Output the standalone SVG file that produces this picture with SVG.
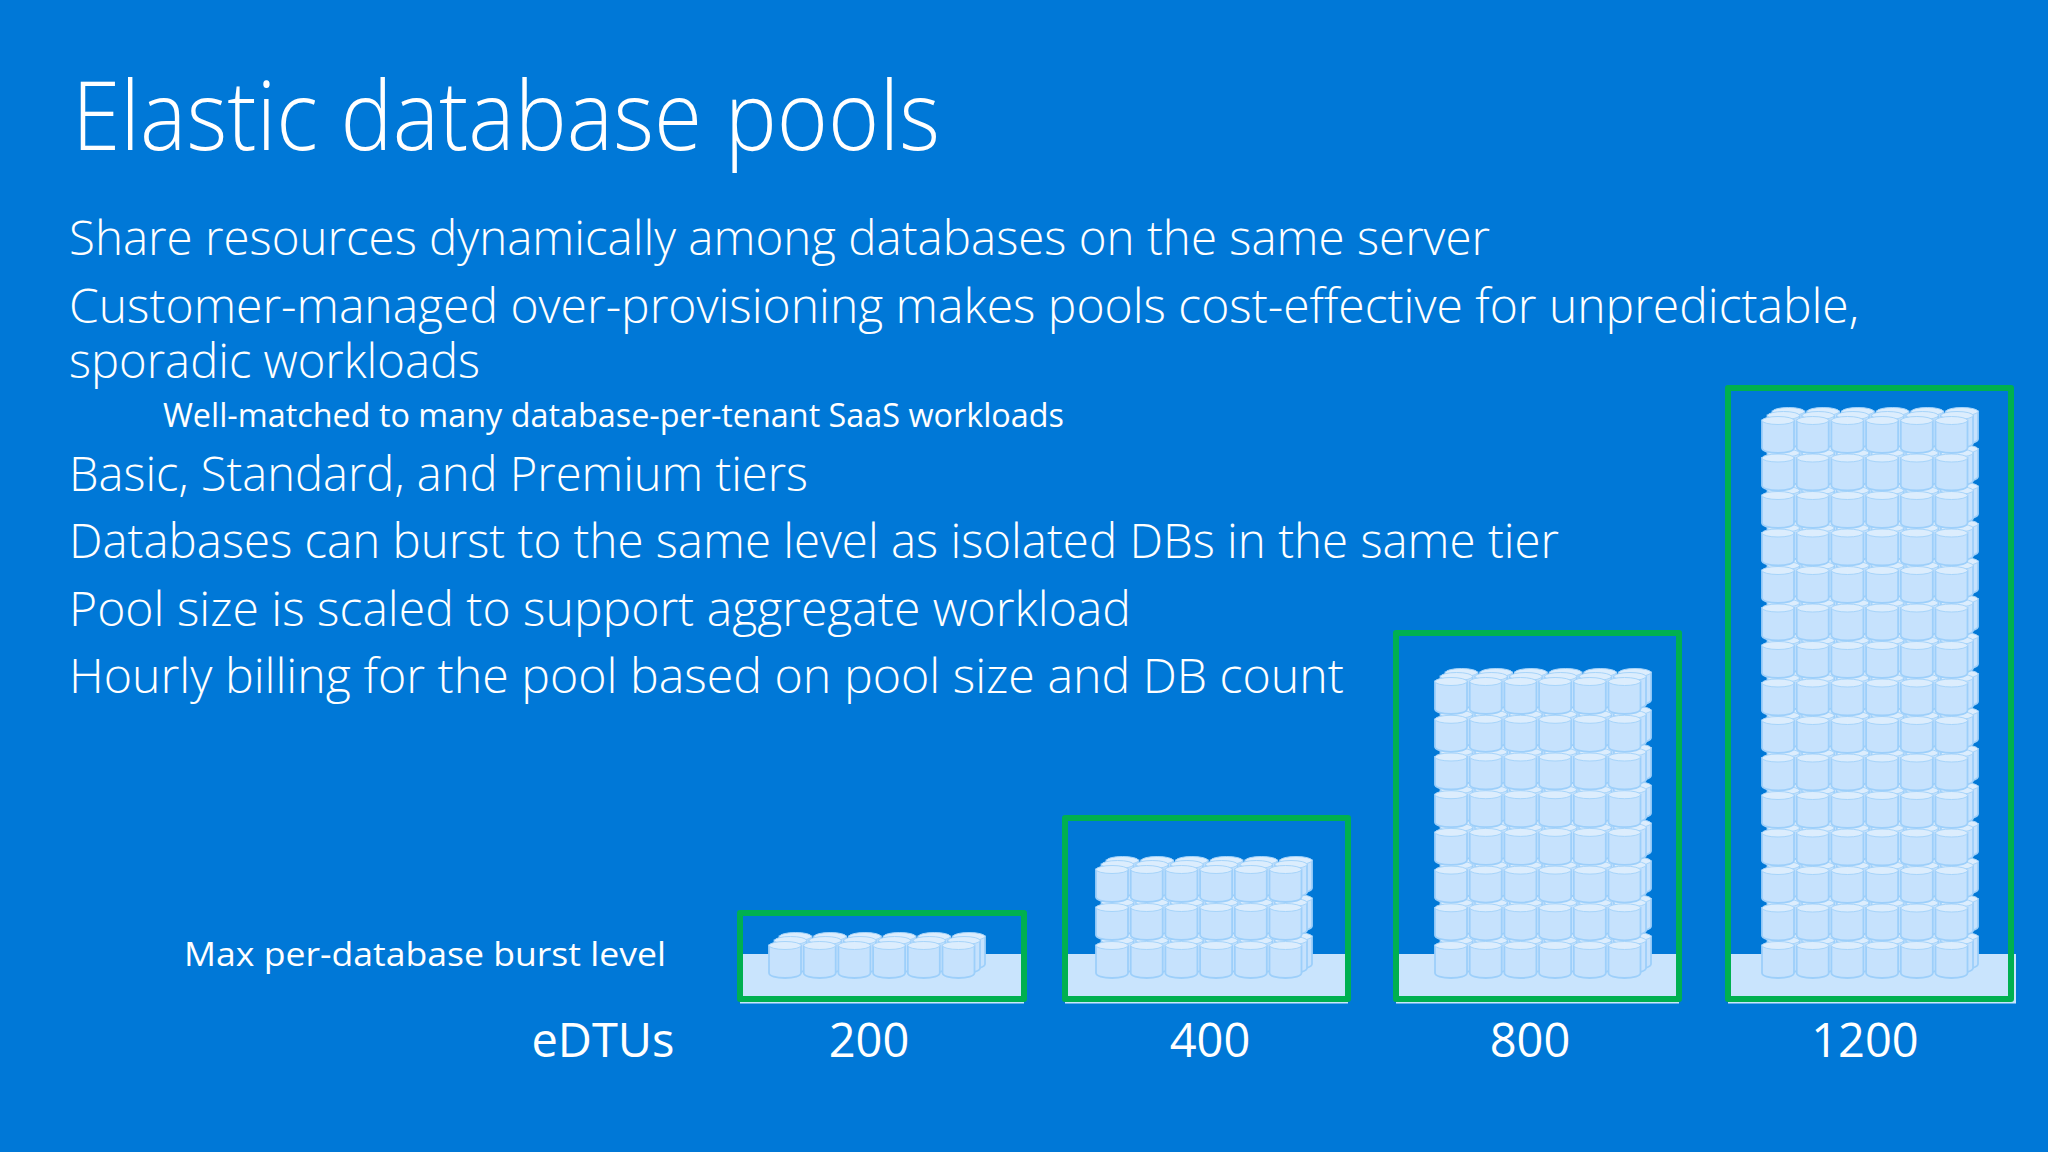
<svg xmlns="http://www.w3.org/2000/svg" width="2048" height="1152" viewBox="0 0 2048 1152">
<style>
text{font-family:"Open Sans","Liberation Sans",sans-serif;fill:#fff}
.t{font-size:95px;font-weight:300}
.b{font-size:47px;font-weight:300}
.s{font-size:32px;font-weight:400}
.n{font-size:47px;font-weight:400;text-anchor:middle}
.box{fill:none;stroke:#00b050;stroke-width:6;stroke-linejoin:round}
.floor{fill:#c9e4fd}
.cb{fill:#c6e2fd;stroke:#9dcffa;stroke-width:1.8}
.ct{fill:#dcedfd;stroke:#a6d4fa;stroke-width:1}
</style>
<defs>
<g id="cyl"><path class="cb" d="M0 4.500V32C0 35 7 37 16 37S32 35 32 32V4.500Z"/><ellipse class="ct" cx="16" cy="4.500" rx="16" ry="4"/></g>
<g id="row"><use href="#cyl" x="0"/><use href="#cyl" x="34.7"/><use href="#cyl" x="69.4"/><use href="#cyl" x="104.1"/><use href="#cyl" x="138.8"/><use href="#cyl" x="173.5"/></g>
<g id="tier"><use href="#row" x="10.500" y="-9"/><use href="#row" x="5.500" y="-5"/><use href="#row"/></g>
</defs>
<rect width="2048" height="1152" fill="#0078d7"/>
<text class="t" x="72" y="150" textLength="868" lengthAdjust="spacingAndGlyphs">Elastic database pools</text>
<text class="b" x="69" y="255" textLength="1421" lengthAdjust="spacingAndGlyphs">Share resources dynamically among databases on the same server</text>
<text class="b" x="69" y="323" textLength="1790" lengthAdjust="spacingAndGlyphs">Customer-managed over-provisioning makes pools cost-effective for unpredictable,</text>
<text class="b" x="69" y="378" textLength="411" lengthAdjust="spacingAndGlyphs">sporadic workloads</text>
<text class="s" x="163" y="427" textLength="901" lengthAdjust="spacingAndGlyphs">Well-matched to many database-per-tenant SaaS workloads</text>
<text class="b" x="69" y="491" textLength="739" lengthAdjust="spacingAndGlyphs">Basic, Standard, and Premium tiers</text>
<text class="b" x="69" y="558" textLength="1490" lengthAdjust="spacingAndGlyphs">Databases can burst to the same level as isolated DBs in the same tier</text>
<text class="b" x="69" y="626" textLength="1062" lengthAdjust="spacingAndGlyphs">Pool size is scaled to support aggregate workload</text>
<text class="b" x="69" y="693" textLength="1275" lengthAdjust="spacingAndGlyphs">Hourly billing for the pool based on pool size and DB count</text>
<text class="s" x="184" y="966" textLength="482" lengthAdjust="spacingAndGlyphs">Max per-database burst level</text>
<text class="n" x="603" y="1057">eDTUs</text>
<g id="pool-200">
<rect class="floor" x="740" y="954" width="284" height="49.500"/>
<use href="#tier" x="769" y="941"/>
<rect class="box" x="740" y="913" width="284" height="86"/>
<text class="n" x="869" y="1057">200</text>
</g>
<g id="pool-400">
<rect class="floor" x="1065" y="954" width="283" height="49.500"/>
<use href="#tier" x="1096" y="941"/><use href="#tier" x="1096" y="903"/><use href="#tier" x="1096" y="865"/>
<rect class="box" x="1065" y="818" width="283" height="181"/>
<text class="n" x="1210" y="1057">400</text>
</g>
<g id="pool-800">
<rect class="floor" x="1396" y="954" width="283" height="49.500"/>
<use href="#tier" x="1435" y="941"/><use href="#tier" x="1435" y="903.300"/><use href="#tier" x="1435" y="865.600"/><use href="#tier" x="1435" y="827.900"/><use href="#tier" x="1435" y="790.200"/><use href="#tier" x="1435" y="752.500"/><use href="#tier" x="1435" y="714.800"/><use href="#tier" x="1435" y="677"/>
<rect class="box" x="1396" y="633" width="283" height="366"/>
<text class="n" x="1530" y="1057">800</text>
</g>
<g id="pool-1200">
<rect class="floor" x="1728" y="954" width="288" height="49.500"/>
<use href="#tier" x="1762" y="941"/><use href="#tier" x="1762" y="903.500"/><use href="#tier" x="1762" y="866"/><use href="#tier" x="1762" y="828.500"/><use href="#tier" x="1762" y="791"/><use href="#tier" x="1762" y="753.500"/><use href="#tier" x="1762" y="716"/><use href="#tier" x="1762" y="678.500"/><use href="#tier" x="1762" y="641"/><use href="#tier" x="1762" y="603.500"/><use href="#tier" x="1762" y="566"/><use href="#tier" x="1762" y="528.500"/><use href="#tier" x="1762" y="491"/><use href="#tier" x="1762" y="453.500"/><use href="#tier" x="1762" y="416"/>
<rect class="box" x="1728" y="388" width="283" height="611"/>
<text class="n" x="1865" y="1057">1200</text>
</g>
</svg>
